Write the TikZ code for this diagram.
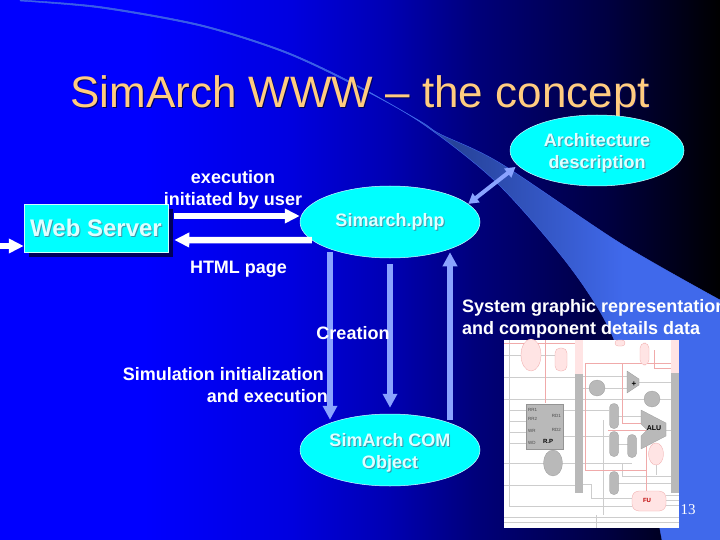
\documentclass[tikz,border=0pt]{standalone}
\usepackage{fontspec}
\setmainfont{Liberation Sans}
\newfontfamily\pagefont{Liberation Serif}
\usetikzlibrary{arrows.meta}
\usetikzlibrary{shapes.geometric}
\usetikzlibrary{shadows}
\definecolor{titleorange}{RGB}{255,204,128}
\definecolor{boxcyan}{RGB}{0,255,255}
\definecolor{paleCyan}{RGB}{205,255,255}
\definecolor{textcyan}{RGB}{222,255,255}
\definecolor{tealshade}{RGB}{60,150,170}
\definecolor{arrowblue}{RGB}{138,163,255}
\definecolor{swooshblue}{RGB}{65,105,235}
\definecolor{navyshade}{RGB}{0,0,90}
\definecolor{schemgray}{RGB}{185,185,185}
\definecolor{schemline}{RGB}{205,205,205}
\definecolor{schempink}{RGB}{255,228,228}
\definecolor{schemred}{RGB}{240,170,170}
\pgfdeclarehorizontalshading{slidebg}{100bp}{rgb(0bp)=(0,0,1); rgb(35bp)=(0,0,1); rgb(45bp)=(0,0,.88); rgb(52bp)=(0,0,.7); rgb(58bp)=(0,0,.48); rgb(67bp)=(0,0,.26); rgb(72bp)=(0,0,.1); rgb(75bp)=(0,0,0); rgb(100bp)=(0,0,0)}
\pgfdeclarehorizontalshading{swooshbg}{100bp}{rgb(0bp)=(.22,.36,.9); rgb(52bp)=(.22,.36,.9); rgb(56bp)=(.15,.26,.6); rgb(68bp)=(.25,.41,.92); rgb(100bp)=(.25,.41,.92)}
\newcommand{\shadowed}[2]{\makebox[0pt][l]{\hspace{1pt}\raisebox{-1pt}{\textcolor{#1}{#2}}}#2}
\tikzset{
	bluelabel/.style={text=white,font=\fontsize{18}{22}\selectfont\bfseries,inner sep=0pt},
	cyanellipse/.style={ellipse,fill=boxcyan,draw=paleCyan,line width=0.5pt,inner sep=0pt,text=textcyan,align=center,font=\fontsize{18}{22}\selectfont\bfseries},
	whitearrow/.style={draw=white,line width=6.5pt,-{Triangle[length=15pt,width=14pt]}},
	bluearrow/.style={draw=arrowblue,line width=6.5pt,-{Triangle[length=14pt,width=14pt]}},
	bothways/.style={draw=arrowblue,line width=4pt,{Triangle[length=10pt,width=11pt]}-{Triangle[length=10pt,width=11pt]}},
	graypart/.style={fill=schemgray,draw=schemgray!80!black,line width=0.2pt},
	pinkpart/.style={fill=schempink,draw=schemred,line width=0.3pt},
	wiregray/.style={draw=schemline,line width=0.6pt},
	wirepink/.style={draw=schemred,line width=0.5pt},
	tinytext/.style={font=\fontsize{4.5}{5}\selectfont,inner sep=0pt,text=black!70}
}
\begin{document}
\begin{tikzpicture}[x=1pt,y=-1pt]
	\useasboundingbox (0,0) rectangle (720,540);
	\shade[shading=slidebg] (0,0) rectangle (720,540);
	\shade[shading=swooshbg,draw=swooshblue,line width=0.4pt] plot[smooth] coordinates {(20,1) (100,8) (200,26) (283,52) (350,83) (420,122) (497,183) (570,267) (613,337) (640,430) (662,540)} -- (720,540) -- (720,300) -- plot[smooth] coordinates {(720,300) (620,243) (500,163) (440,134) (420,121) (350,81.5) (283,50.5) (200,24.5) (100,6.5) (20,0)} -- cycle;
	\node[font=\fontsize{44}{48}\selectfont,text=titleorange,inner sep=0pt] (title) at (360,97) {\shadowed{navyshade}{SimArch WWW – the concept}};

	\node[rectangle,fill=boxcyan,draw=paleCyan,line width=0.5pt,minimum width=144pt,minimum height=48pt,inner sep=0pt,text=textcyan,font=\fontsize{24}{26}\selectfont\bfseries,drop shadow={shadow xshift=5pt,shadow yshift=-5pt,fill=navyshade,opacity=1}] (webserver) at (96,228) {\shadowed{tealshade}{Web Server}};
	\node[cyanellipse,minimum width=180pt,minimum height=72pt] (simarch) at (390,222) {\shadowed{tealshade}{Simarch.php}};
	\node[cyanellipse,minimum width=174pt,minimum height=71pt] (archdesc) at (597,150.5) {\rule{0pt}{19pt}\shadowed{tealshade}{Architecture}\\\shadowed{tealshade}{description}};
	\node[cyanellipse,minimum width=180pt,minimum height=72pt] (comobject) at (390,450) {\rule{0pt}{19pt}\shadowed{tealshade}{SimArch COM}\\\shadowed{tealshade}{Object}};

	\coordinate (usertail) at (0,246);
	\draw[whitearrow] (usertail) -- (webserver.west |- usertail);
	\draw[whitearrow] ([xshift=6pt,yshift=12pt]webserver.east) -- ([yshift=6pt]simarch.west);
	\draw[whitearrow] (simarch.193) -- ([xshift=6pt,yshift=-12pt]webserver.east);
	\draw[bluearrow] ([xshift=-60pt,yshift=6pt]simarch.south) -- ([xshift=-60pt,yshift=-6pt]comobject.north);
	\draw[bluearrow] ([yshift=-6pt]simarch.south) -- ([yshift=6pt]comobject.north);
	\draw[bluearrow] ([xshift=60pt,yshift=-6pt]comobject.north) -- ([xshift=60pt,yshift=6pt]simarch.south);
	\draw[bothways] (simarch.13) -- ([xshift=-4pt]archdesc.192);

	\node[bluelabel,align=center] (execlabel) at (233,190) {execution\\initiated by user};
	\node[bluelabel] (htmllabel) at (238.5,269) {HTML page};
	\node[bluelabel] (creationlabel) at (353,333) {Creation};
	\node[bluelabel,align=right,anchor=east] (simlabel) at (328,385) {Simulation initialization\hspace*{4pt}\\and execution};
	\node[bluelabel,align=left,anchor=west] (datalabel) at (462,319) {System graphic representation\\and component details data};

	% schematic picture
	\fill[white] (504,340) rectangle (679,528);
	\foreach \y in {377,399,485} \draw[wiregray] (504,\y) -- (575,\y);
	\foreach \y in {410,421,432,443} \draw[wiregray] (509,\y) -- (526,\y);
	\foreach \y in {410,436} \draw[wiregray] (563,\y) -- (575,\y);
	\foreach \y in {517,522} \draw[wiregray] (504,\y) -- (679,\y);
	\draw[wiregray] (509,340) -- (509,506) -- (632,506);
	\draw[wiregray] (504,355) -- (521,355);
	\draw[wiregray] (541,355) -- (555,355);
	\draw[wiregray] (504,463) -- (575,463);
	\draw[wiregray] (583,484) -- (591,484) -- (591,498) -- (632,498);
	\draw[wiregray] (583,376) -- (627,376);
	\draw[wiregray] (583,388) -- (627,388);
	\draw[wiregray] (639,382) -- (671,382);
	\draw[wiregray] (583,399) -- (671,399);
	\draw[wiregray] (583,410) -- (609,410);
	\draw[wiregray] (583,436) -- (609,436);
	\draw[wiregray] (583,463) -- (632,463);
	\draw[wiregray] (618,416) -- (641,416);
	\draw[wiregray] (666,430) -- (672,430);
	\draw[wiregray] (603,420) -- (603,515);
	\draw[wiregray] (618,444) -- (628,444);
	\draw[wiregray] (622,463) -- (622,476) -- (672,476);
	\draw[wiregray] (656,465) -- (656,475);
	\draw[wiregray] (596,515) -- (596,528);
	\draw[wiregray] (618,483) -- (672,483);
	\foreach \y in {495,500,505} \draw[wiregray] (666,\y) -- (679,\y);
	\draw[wirepink] (545,340) -- (545,403);
	\draw[wirepink] (504,343) -- (575,343);
	\draw[wirepink] (585,363) -- (671,363);
	\draw[wirepink] (585,363) -- (585,470) -- (646,470);
	\draw[wirepink] (622,363) -- (622,423) -- (641,423);
	\draw[wirepink] (646,450) -- (646,491);
	\draw[wirepink] (608,430) -- (646,430) -- (646,450);
	\draw[wirepink] (654,350) -- (654,368) -- (671,368);
	\fill[schempink] (575,340) rectangle (583,374);
	\fill[schemgray] (575,374) rectangle (583,493);
	\fill[schempink] (671,340) rectangle (679,373);
	\fill[schemgray] (671,373) rectangle (679,493);
	\draw[pinkpart] (531,355) ellipse (10 and 16);
	\draw[pinkpart,rounded corners=5pt] (555,348) rectangle (567,371);
	\draw[pinkpart,rounded corners=3pt] (615,340) rectangle (625,346);
	\draw[pinkpart,rounded corners=5pt] (640,343) rectangle (649,365);
	\draw[pinkpart] (656,454) ellipse (7.5 and 11);
	\draw[pinkpart,rounded corners=7pt] (632,491) rectangle (666,511);
	\draw[graypart] (526,404) rectangle (563,449);
	\draw[graypart] (553,463) ellipse (9.5 and 13);
	\draw[graypart] (597,388) circle (8);
	\draw[graypart] (652,399) circle (8);
	\draw[graypart] (627,371) -- (639,379) -- (639,385) -- (627,393) -- cycle;
	\draw[graypart] (641,410) -- (666,423) -- (666,436) -- (641,449) -- (641,436) -- (647,430) -- (641,424) -- cycle;
	\foreach \x/\y/\h in {614/416/25,614/444/25,632/446/23,614/483/23}
		\draw[graypart,rounded corners=4pt] (\x-4.5,\y-\h/2) rectangle (\x+4.5,\y+\h/2);
	\node[tinytext,anchor=west] (rrone) at (528,410) {RR1};
	\node[tinytext,anchor=west] (rrtwo) at (528,419) {RR2};
	\node[tinytext,anchor=west] (wrlabel) at (528,431) {WR};
	\node[tinytext,anchor=west] (wdlabel) at (528,443) {WD};
	\node[tinytext,anchor=east] (rdone) at (561,416) {RD1};
	\node[tinytext,anchor=east] (rdtwo) at (561,430) {RD2};
	\node[font=\fontsize{6}{6}\selectfont\bfseries,inner sep=0pt] (rplabel) at (548,441) {R.P};
	\node[font=\fontsize{8}{8}\selectfont\bfseries,inner sep=0pt] (adderlabel) at (634,384) {+};
	\node[font=\fontsize{7}{7}\selectfont\bfseries,inner sep=0pt] (alulabel) at (654,428) {ALU};
	\node[font=\fontsize{6}{6}\selectfont\bfseries,text=red!75!black,inner sep=0pt] (fulabel) at (647,500) {FU};

	\node[font=\fontsize{15}{15}\selectfont\pagefont,text=white,inner sep=0pt] (pagenum) at (688,510) {13};
\end{tikzpicture}
\end{document}
